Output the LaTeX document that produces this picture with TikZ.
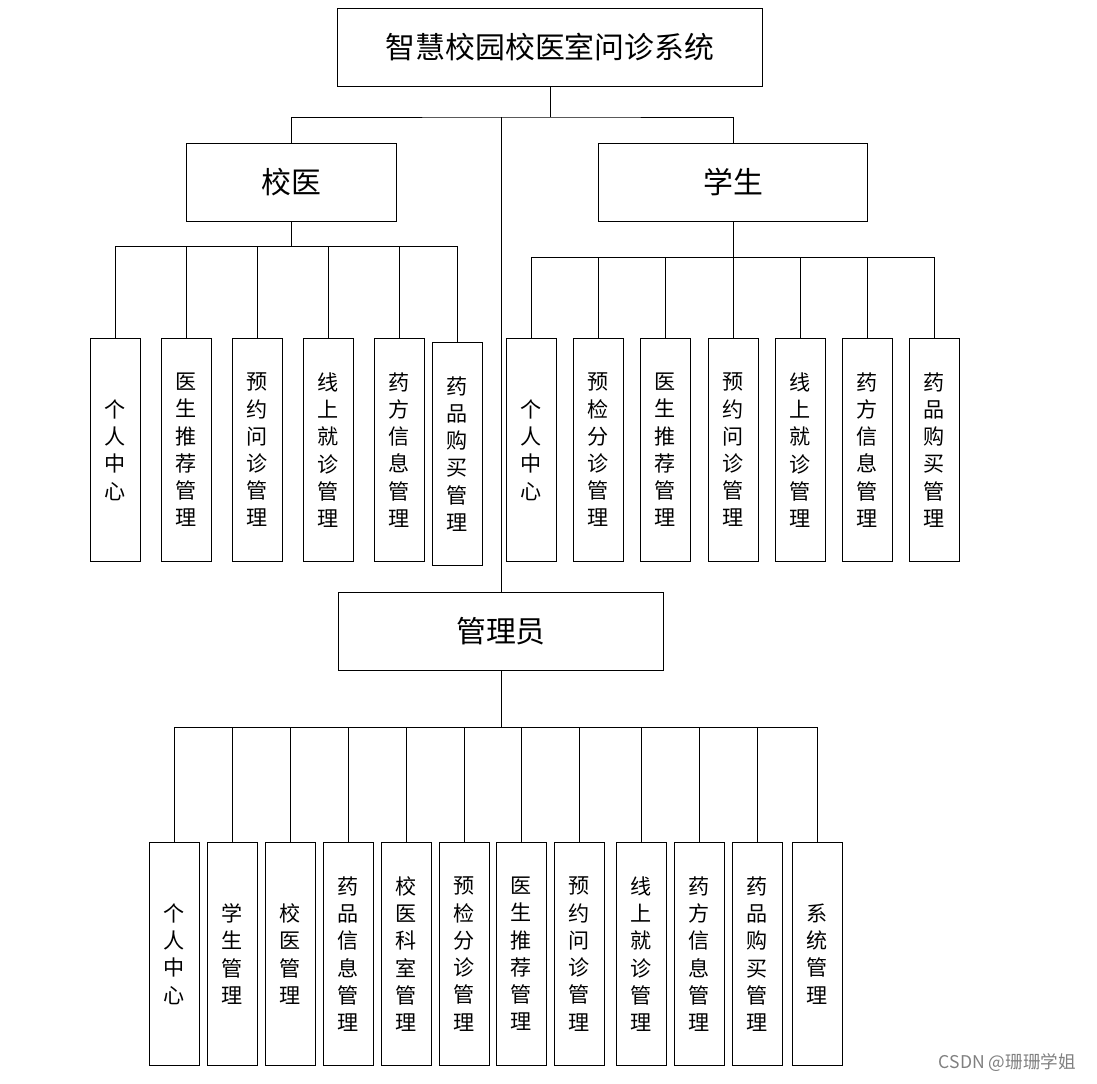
\documentclass[tikz,border=0pt]{standalone}
\usepackage{fontspec}
\newfontfamily\cjk{Noto Sans CJK SC}
\usetikzlibrary{positioning}
\tikzset{
  bigbox/.style={draw,fill=white,inner sep=0pt,font=\cjk\fontsize{17}{20}\selectfont},
  leafbox/.style={draw,fill=white,inner sep=0pt,minimum width=1cm,minimum height=4.46cm,
    align=center,font=\cjk\fontsize{12}{15.5}\selectfont},
  wire/.style={draw,line width=0.4pt}
}
\begin{document}
\begin{tikzpicture}[x=0.02cm,y=-0.02cm]
	\useasboundingbox (0,0) rectangle (1097,1083);
	\node[bigbox,minimum width=8.5cm,minimum height=1.56cm] (sys) at (550,47) {智慧校园校医室问诊系统};
	\node[bigbox,minimum width=4.2cm,minimum height=1.56cm] (doc) at (291,182) {校医};
	\node[bigbox,minimum width=5.38cm,minimum height=1.56cm] (stu) at (733,182) {学生};
	\node[bigbox,minimum width=6.5cm,minimum height=1.56cm] (adm) at (501,631) {管理员};
	% top level connectors
	\coordinate (topbus) at (550,117);
	\draw[wire] (sys.south) -- (topbus);
	\draw[wire] (doc.north) |- (topbus) -| (stu.north);
	\draw[wire] (501,117) coordinate (admtop) -- (adm.north);
	% doctor children
	\coordinate (docbus) at (291,246);
	\draw[wire] (doc.south) -- (docbus);
	\foreach \x/\t [count=\i] in {115/{个\\人\\中\\心},186/{医\\生\\推\\荐\\管\\理},257/{预\\约\\问\\诊\\管\\理},328/{线\\上\\就\\诊\\管\\理},399/{药\\方\\信\\息\\管\\理}}{
		\node[leafbox] (doc\i) at (\x,450) {\t};
		\draw[wire] (doc\i.north) -- (doc\i.north|-docbus);
	}
	\node[leafbox] (doc6) at (457,454) {药\\品\\购\\买\\管\\理};
	\draw[wire] (doc6.north) |- (doc1.north|-docbus) -- (doc1.north);
	% student children
	\coordinate (stubus) at (733,257);
	\draw[wire] (stu.south) -- (stubus);
	\foreach \x/\t [count=\i] in {531/{个\\人\\中\\心},598/{预\\检\\分\\诊\\管\\理},665/{医\\生\\推\\荐\\管\\理},733/{预\\约\\问\\诊\\管\\理},800/{线\\上\\就\\诊\\管\\理},867/{药\\方\\信\\息\\管\\理},934/{药\\品\\购\\买\\管\\理}}{
		\node[leafbox] (stu\i) at (\x,450) {\t};
		\draw[wire] (stu\i.north) -- (stu\i.north|-stubus);
	}
	\draw[wire] (stu1.north|-stubus) -- (stu7.north|-stubus);
	% admin children
	\coordinate (admbus) at (501,727);
	\draw[wire] (adm.south) -- (admbus);
	\foreach \x/\t [count=\i] in {174/{个\\人\\中\\心},232/{学\\生\\管\\理},290/{校\\医\\管\\理},348/{药\\品\\信\\息\\管\\理},406/{校\\医\\科\\室\\管\\理},464/{预\\检\\分\\诊\\管\\理},521/{医\\生\\推\\荐\\管\\理},579/{预\\约\\问\\诊\\管\\理},641/{线\\上\\就\\诊\\管\\理},699/{药\\方\\信\\息\\管\\理},757/{药\\品\\购\\买\\管\\理},817/{系\\统\\管\\理}}{
		\node[leafbox] (adm\i) at (\x,954) {\t};
		\draw[wire] (adm\i.north) -- (adm\i.north|-admbus);
	}
	\draw[wire] (adm1.north|-admbus) -- (adm12.north|-admbus);
	\node[text=gray,font=\cjk\fontsize{10}{12}\selectfont,anchor=east] (mark) at (1082,1063) {CSDN @珊珊学姐};
\end{tikzpicture}
\end{document}
